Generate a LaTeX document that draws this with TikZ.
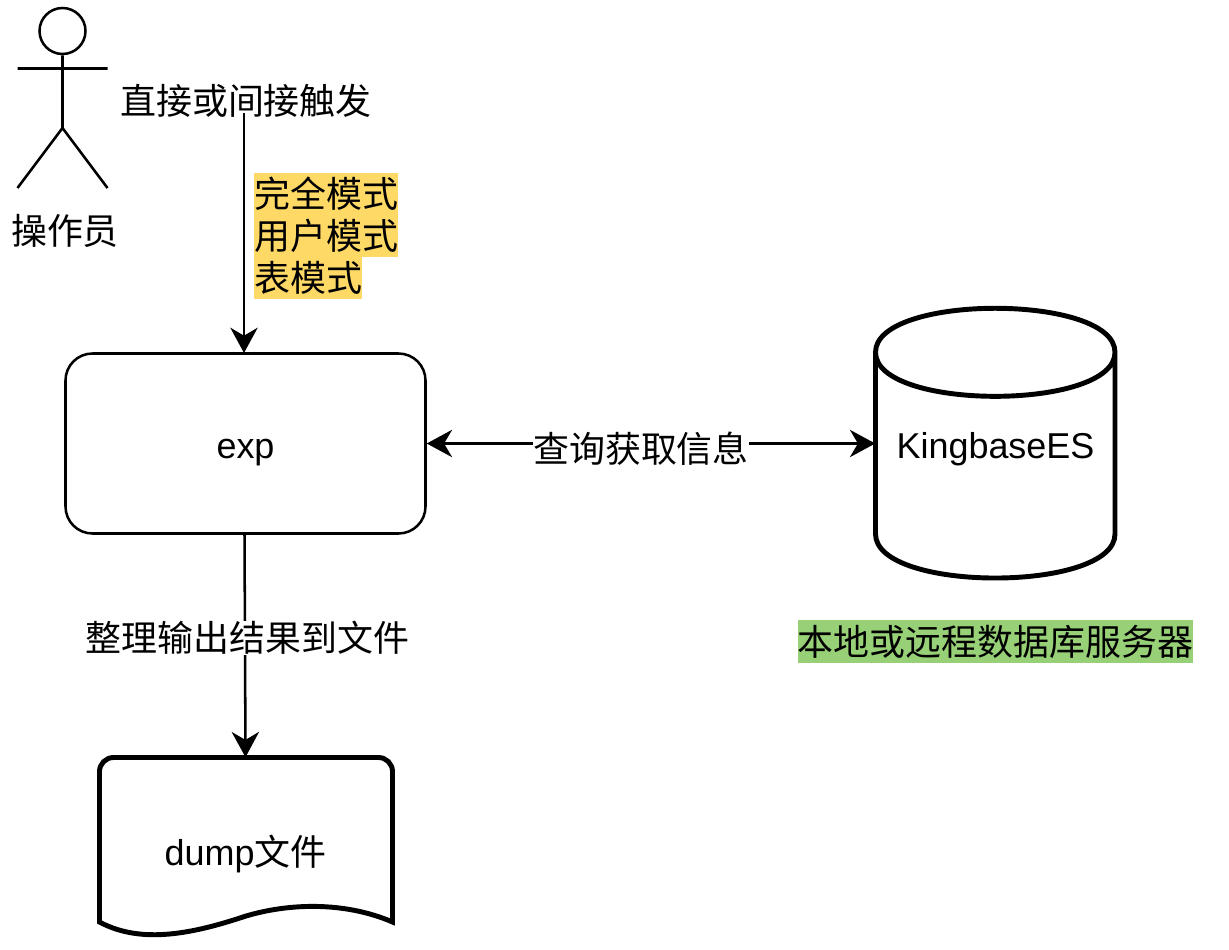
\documentclass[tikz,border=0pt]{standalone}
\usepackage{fontspec}
\setmainfont{Liberation Sans}
\newfontfamily\cjk{Noto Sans CJK SC}
\usetikzlibrary{arrows.meta}
\definecolor{hlY}{HTML}{FFD966}
\definecolor{hlG}{HTML}{97D077}
\def\pxu{0.0264cm}
\tikzset{
 px/.style={x=0.0264cm,y=-0.0264cm},
 tipS/.tip={Stealth[length=19pt,width=20.5pt,inset=6pt]},
 conn/.style={draw=black,line width=1.9pt,-tipS},
 both/.style={draw=black,line width=1.9pt,tipS-tipS},
 plain/.style={draw=black,line width=1.9pt},
 heavy/.style={draw=black,line width=3.7pt},
 lbl/.style={font=\cjk\fontsize{27pt}{32pt}\selectfont,inner sep=0pt,text=black,align=center},
 ltxt/.style={font=\fontsize{27pt}{32pt}\selectfont,inner sep=0pt,text=black,align=center},
 hl/.style={lbl,minimum height=42*\pxu,anchor=west},
}
\begin{document}
\begin{tikzpicture}[px]
\useasboundingbox (0,0) rectangle (1229,950);
% actor
\node[plain,circle,inner sep=0pt,minimum size=46*\pxu] (head) at (62.5,31) {};
\coordinate (hip) at (62.5,128);
\coordinate (armL) at (17.5,68.5);
\coordinate (armR) at (107.5,68.5);
\coordinate (legL) at (17.5,188);
\coordinate (legR) at (107.5,188);
\draw[plain] (head.south) -- (hip) (armL) -- (armR) (legL) -- (hip) -- (legR);
\node[lbl] (actor) at (65,231) {操作员};
% highlighted modes
\node[hl,fill=hlY] (m1) at (254,194) {完全模式};
\node[hl,fill=hlY] (m2) at (254,236) {用户模式};
\node[hl,fill=hlY] (m3) at (254,278) {表模式};
% exp
\node[plain,rounded corners=27*\pxu,minimum width=360*\pxu,minimum height=180*\pxu] (exp) at (245.5,443.5) {};
\node[ltxt] (exptxt) at (245.5,453) {exp};
% trigger
\coordinate (expTop) at (244,353);
\coordinate (trigOut) at (244,113);
\draw[conn] (trigOut) -- (expTop);
\node[lbl] (trig) at (246,101) {直接或间接触发};
% database
\node[minimum width=239.5*\pxu,minimum height=270*\pxu,inner sep=0pt] (db) at (995.25,443.5) {};
\draw[heavy,line join=round] (875.5,352.3) .. controls (875.5,293.6) and (1115,293.6) .. (1115,352.3)
  .. controls (1115,411) and (875.5,411) .. (875.5,352.3) -- (875.5,534)
  .. controls (875.5,592.7) and (1115,592.7) .. (1115,534) -- (1115,352.3);
\node[ltxt] (dbtxt) at (995.5,449) {KingbaseES};
\node[lbl,fill=hlG,minimum height=42.5*\pxu] (server) at (995.3,641.5) {本地或远程数据库服务器};
% document
\node[minimum width=293*\pxu,minimum height=165*\pxu,inner sep=0pt] (dump) at (245.5,840) {};
\draw[heavy,line join=miter] (99.5,922) [rounded corners=14*\pxu] -- (99.5,757.5) -- (392.5,757.5) [rounded corners=0pt] -- (392.5,922)
  .. controls (351,904) and (297,901) .. (246,916) .. controls (195,933) and (142,945) .. (99.5,922) -- cycle;
\node[ltxt] (dumptxt) at (245.5,854) {dump{\cjk 文件}};
% connectors
\draw[both] (exp.east) -- (db.west);
\node[lbl,fill=white] (query) at (641,449) {查询获取信息};
\coordinate (expBot) at (244.5,533.5);
\draw[conn] (expBot) -- (dump.north);
\node[lbl,fill=white] (arrange) at (247.3,638) {整理输出结果到文件};
\end{tikzpicture}
\end{document}
